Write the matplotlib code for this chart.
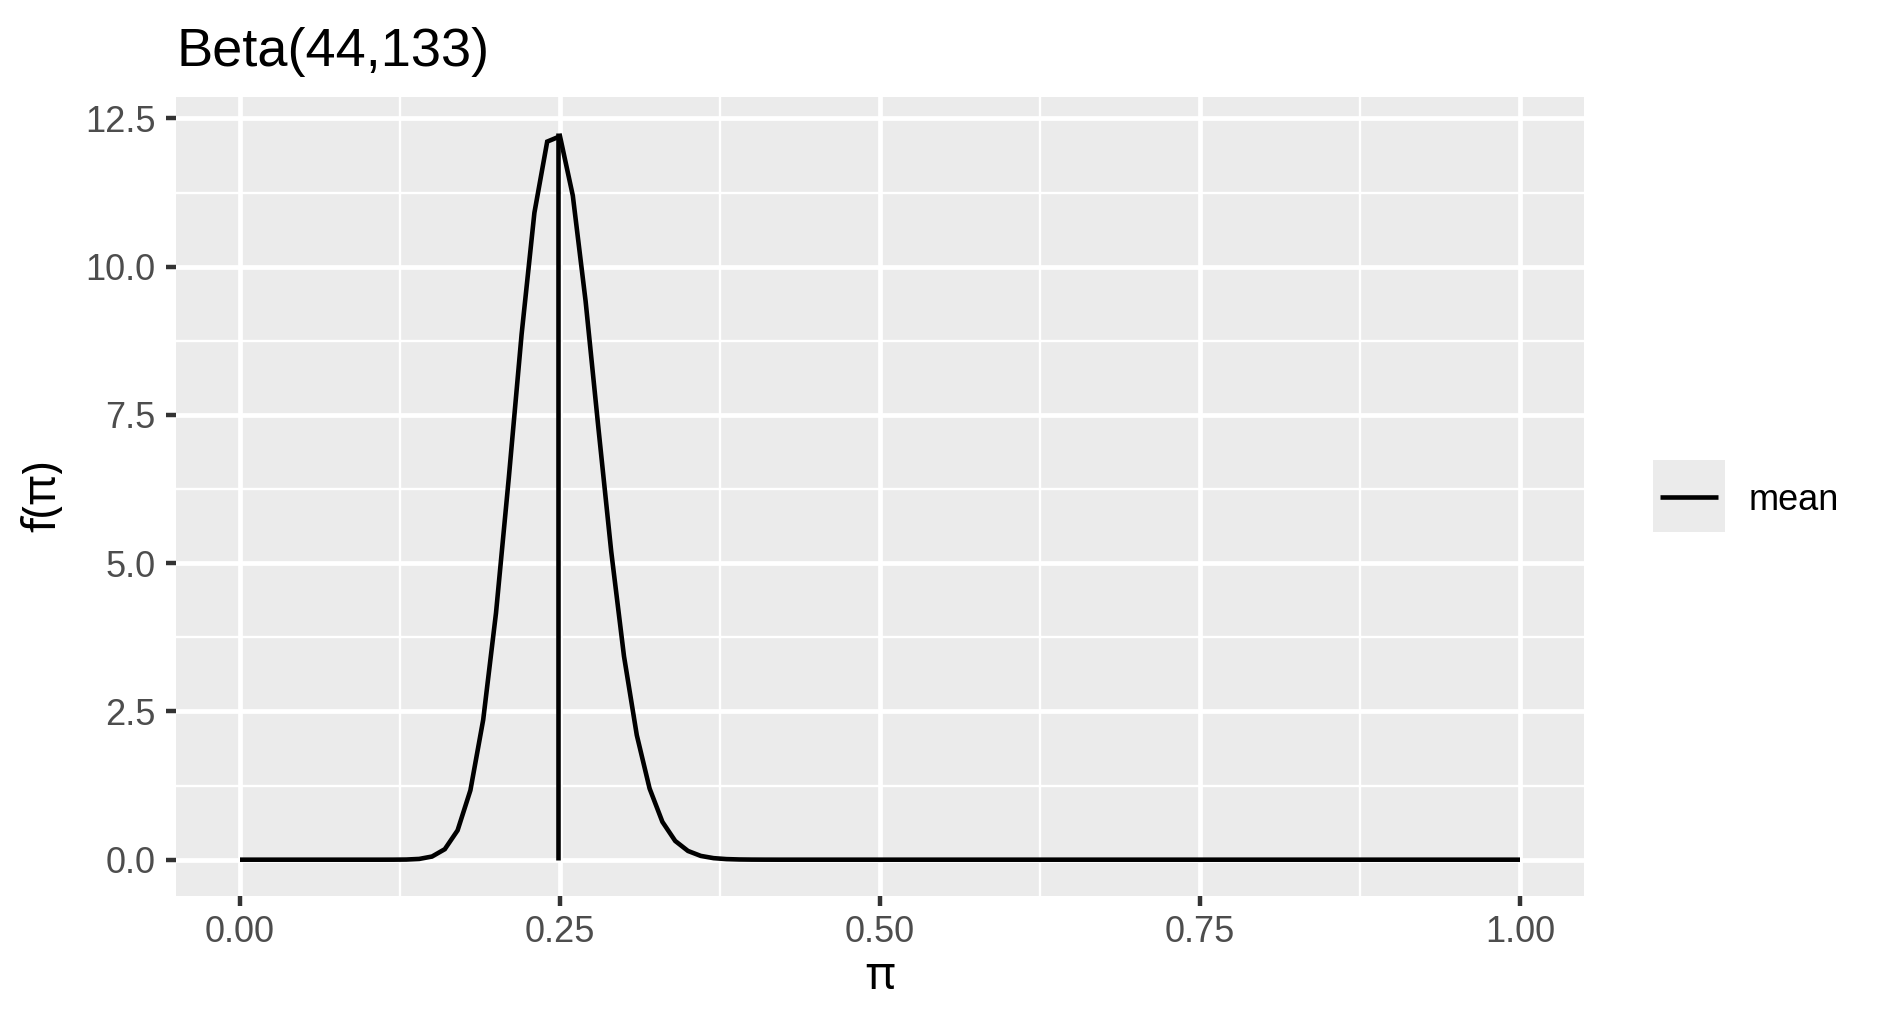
import numpy as np
import matplotlib.pyplot as plt
from matplotlib.patches import Rectangle
from matplotlib.lines import Line2D

plt.rcParams['font.family'] = ['Liberation Sans', 'DejaVu Sans']

# Beta(44,133) density, pi = 0.00, 0.01, ..., 1.00
pi_grid = np.round(np.arange(101) * 0.01, 2)
density = ([0.0] * 12 +
           [0.0004, 0.0024, 0.0127, 0.053, 0.177, 0.495, 1.17, 2.36, 4.16, 6.44,
            8.86, 10.91, 12.11, 12.20, 11.20, 9.42, 7.28, 5.20, 3.43, 2.10,
            1.20, 0.638, 0.316, 0.147, 0.0636, 0.0258, 0.0098, 0.0035, 0.0012, 0.0004] +
           [0.0] * 59)

mean_pi = 44 / 177
mean_height = 12.25

x_ticks = [0.00, 0.25, 0.50, 0.75, 1.00]
x_labels = ["0.00", "0.25", "0.50", "0.75", "1.00"]
y_ticks = [0.0, 2.5, 5.0, 7.5, 10.0, 12.5]
y_labels = ["0.0", "2.5", "5.0", "7.5", "10.0", "12.5"]

W, H = 1885, 1017
fig = plt.figure(figsize=(W / 100, H / 100), dpi=100)
ax = fig.add_axes([176 / W, 1 - 896 / H, 1408 / W, 799 / H])
ax.set_facecolor('#EBEBEB')
for s in ax.spines.values():
    s.set_visible(False)

# gridlines
for xm in [0.125, 0.375, 0.625, 0.875]:
    ax.axvline(xm, color='white', lw=1.7, zorder=0.5)
for ym in [1.25, 3.75, 6.25, 8.75, 11.25]:
    ax.axhline(ym, color='white', lw=1.7, zorder=0.5)
for xv in x_ticks:
    ax.axvline(xv, color='white', lw=3.4, zorder=0.6)
for yv in y_ticks:
    ax.axhline(yv, color='white', lw=3.4, zorder=0.6)

ax.plot(pi_grid, density, color='black', lw=3.3, solid_capstyle='butt',
        solid_joinstyle='miter', zorder=2)
ax.plot([mean_pi, mean_pi], [0, mean_height], color='black', lw=3.3,
        solid_capstyle='butt', zorder=2)

ymax = max(max(density), mean_height)
ax.set_xlim(-0.05, 1.05)
ax.set_ylim(-0.05 * ymax, 1.05 * ymax)

ax.set_xticks(x_ticks)
ax.set_xticklabels(x_labels)
ax.set_yticks(y_ticks)
ax.set_yticklabels(y_labels)
ax.tick_params(axis='both', length=7.5, width=3.2, color='#333333',
               labelcolor='#4D4D4D', labelsize=26)
ax.tick_params(axis='x', pad=6)
ax.tick_params(axis='y', pad=7)

ax.set_xlabel('π', fontsize=32.5, labelpad=3, family=['Noto Sans', 'DejaVu Sans'])
ax.set_ylabel('f(π)', fontsize=32.5, labelpad=14, family=['Noto Sans', 'DejaVu Sans'])

fig.text(176 / W, 1 - 66 / H, 'Beta(44,133)', fontsize=39, ha='left', va='baseline')

# legend
fig.add_artist(Rectangle((1653 / W, 1 - 532 / H), 72 / W, 72 / H,
                         transform=fig.transFigure, facecolor='#EBEBEB',
                         edgecolor='none'))
fig.add_artist(Line2D([1660 / W, 1718 / W], [1 - 497 / H, 1 - 497 / H],
                      transform=fig.transFigure, color='black', lw=3.3,
                      solid_capstyle='butt'))
fig.text(1749 / W, 1 - 497 / H, 'mean', fontsize=26, ha='left', va='center_baseline')

plt.savefig('out.png', dpi=100)
